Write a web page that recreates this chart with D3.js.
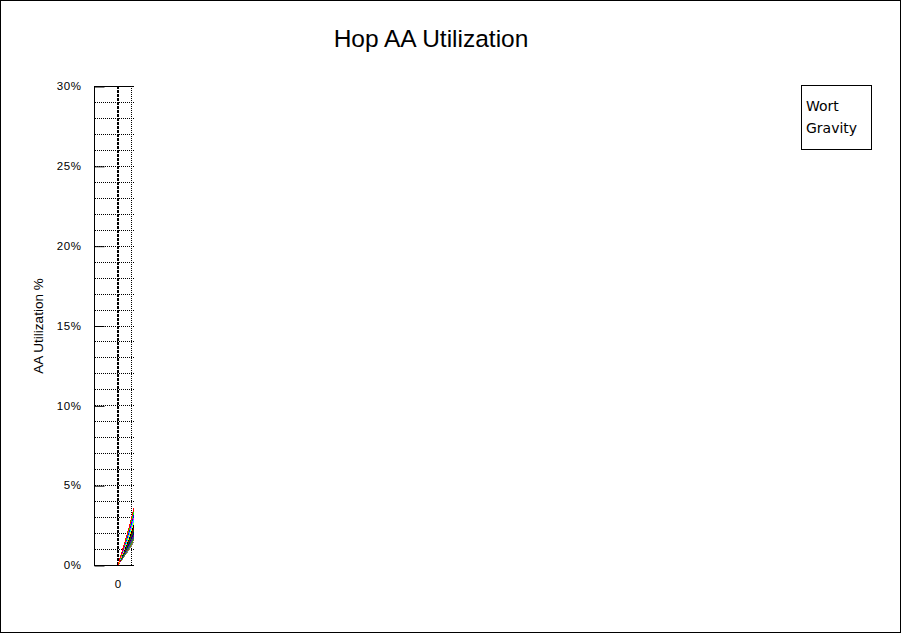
<!DOCTYPE html>
<html>
<head>
<meta charset="utf-8">
<script src="https://cdn.jsdelivr.net/npm/d3@7"></script>
<style>
    body { margin: 0; background: #fff; }
    svg { display: block; font-family: "Liberation Sans", Arial, sans-serif; }
</style>
</head>
<body>
<svg id="chart"></svg>
<script>
// boil time samples (x) and AA utilization (%) for each wort gravity curve
var boilTimes = [0, 0.4, 0.8, 1.2];
var seriesColors = ["#ff0000", "#00ff00", "#0000ff", "#ff00ff", "#00ffff", "#ffff00", "#000000",
    "#800000", "#008000", "#000080", "#800080", "#008080", "#808000", "#808080"];
var seriesValues = [
    [0, 1.10, 2.25, 3.55],
    [0, 1.05, 2.13, 3.37],
    [0, 0.99, 2.02, 3.19],
    [0, 0.94, 1.91, 3.02],
    [0, 0.88, 1.80, 2.85],
    [0, 0.83, 1.70, 2.68],
    [0, 0.78, 1.59, 2.51],
    [0, 0.73, 1.49, 2.35],
    [0, 0.68, 1.39, 2.19],
    [0, 0.63, 1.29, 2.04],
    [0, 0.59, 1.20, 1.89],
    [0, 0.54, 1.11, 1.74],
    [0, 0.50, 1.02, 1.60],
    [0, 0.46, 0.93, 1.46]
];
var yMajorTicks = [0, 5, 10, 15, 20, 25, 30];
var yMinorTicks = d3.range(0, 31, 1);
var xTickLabels = [0];
var xMinorGrid = [1];
var legendLines = ["Wort", "Gravity"];

(function () {
    var width = 901, height = 633;
    var plot = {left: 94, right: 134, top: 86, bottom: 565};

    var svg = d3.select("#chart")
        .attr("width", width)
        .attr("height", height);

    // outer frame
    svg.append("rect")
        .attr("x", 0.5).attr("y", 0.5)
        .attr("width", width - 1).attr("height", height - 1)
        .attr("fill", "#fff").attr("stroke", "#000");

    var x = d3.scaleLinear().domain([-1.8, 1.2]).range([plot.left, plot.right]);
    var y = d3.scaleLinear().domain([0, 30]).range([plot.bottom, plot.top]);

    // horizontal dotted grid every 1%
    svg.append("g").selectAll("line")
        .data(yMinorTicks.filter(function (d) { return d > 0 && d < 30; }))
        .enter().append("line")
        .attr("x1", plot.left + 1).attr("x2", plot.right)
        .attr("y1", function (d) { return Math.round(y(d)) + 0.5; })
        .attr("y2", function (d) { return Math.round(y(d)) + 0.5; })
        .attr("stroke", "#000")
        .attr("stroke-dasharray", "1,1");

    // thin vertical grid
    svg.append("g").selectAll("line")
        .data(xMinorGrid)
        .enter().append("line")
        .attr("x1", function (d) { return Math.round(x(d)) + 0.5; })
        .attr("x2", function (d) { return Math.round(x(d)) + 0.5; })
        .attr("y1", plot.top).attr("y2", plot.bottom)
        .attr("stroke", "#000")
        .attr("stroke-dasharray", "1,1");

    // heavy vertical grid at 0
    svg.append("g").selectAll("line")
        .data(xTickLabels)
        .enter().append("line")
        .attr("x1", function (d) { return Math.round(x(d)); })
        .attr("x2", function (d) { return Math.round(x(d)); })
        .attr("y1", plot.top).attr("y2", plot.bottom)
        .attr("stroke", "#000")
        .attr("stroke-width", 2)
        .attr("stroke-dasharray", "3,1");

    // curves
    var line = d3.line()
        .x(function (d, i) { return x(boilTimes[i]); })
        .y(function (d) { return y(d); });

    svg.append("g").selectAll("path")
        .data(seriesValues.slice().reverse())
        .enter().append("path")
        .attr("d", line)
        .attr("fill", "none")
        .attr("stroke-width", 1)
        .attr("shape-rendering", "crispEdges")
        .attr("stroke", function (d, i) { return seriesColors[seriesValues.length - 1 - i]; });

    // axes (left, bottom, top)
    svg.append("line")
        .attr("x1", plot.left + 0.5).attr("x2", plot.left + 0.5)
        .attr("y1", plot.top).attr("y2", plot.bottom + 1)
        .attr("stroke", "#000");
    svg.append("line")
        .attr("x1", plot.left).attr("x2", plot.right)
        .attr("y1", plot.top + 0.5).attr("y2", plot.top + 0.5)
        .attr("stroke", "#000");
    svg.append("line")
        .attr("x1", plot.left).attr("x2", plot.right)
        .attr("y1", plot.bottom + 0.5).attr("y2", plot.bottom + 0.5)
        .attr("stroke", "#000");

    // major tick marks inside the plot + labels
    var yAxis = d3.axisLeft(y)
        .tickValues(yMajorTicks)
        .tickSize(-10)
        .tickPadding(13)
        .tickFormat(function (d) { return d + "%"; });

    var gy = svg.append("g")
        .attr("transform", "translate(" + (plot.left + 0.5) + ",0)")
        .call(yAxis);
    gy.select(".domain").remove();
    gy.selectAll("line").attr("transform", "translate(0,0.5)");
    gy.selectAll("text")
        .attr("font-size", 11.5)
        .attr("font-family", "Liberation Sans, Arial, sans-serif")
        .attr("letter-spacing", 0.6)
        .attr("fill", "#000");

    svg.append("g").selectAll("text")
        .data(xTickLabels)
        .enter().append("text")
        .attr("x", function (d) { return x(d); })
        .attr("y", 588)
        .attr("text-anchor", "middle")
        .attr("font-size", 11.5)
        .attr("fill", "#000")
        .text(function (d) { return d; });

    // title and axis label
    svg.append("text")
        .attr("x", 431).attr("y", 47)
        .attr("text-anchor", "middle")
        .attr("font-size", 24.5)
        .text("Hop AA Utilization");

    svg.append("text")
        .attr("transform", "translate(43,326) rotate(-90)")
        .attr("text-anchor", "middle")
        .attr("font-size", 13.5)
        .text("AA Utilization %");

    // legend box
    var legend = svg.append("g").attr("transform", "translate(801,85)");
    legend.append("rect")
        .attr("x", 0.5).attr("y", 0.5)
        .attr("width", 70).attr("height", 64)
        .attr("fill", "#fff").attr("stroke", "#000");
    legend.selectAll("text")
        .data(legendLines)
        .enter().append("text")
        .attr("x", 5)
        .attr("y", function (d, i) { return 26 + i * 22; })
        .attr("font-size", 14)
        .attr("font-family", "DejaVu Sans, sans-serif")
        .text(function (d) { return d; });
}());
</script>
</body>
</html>
